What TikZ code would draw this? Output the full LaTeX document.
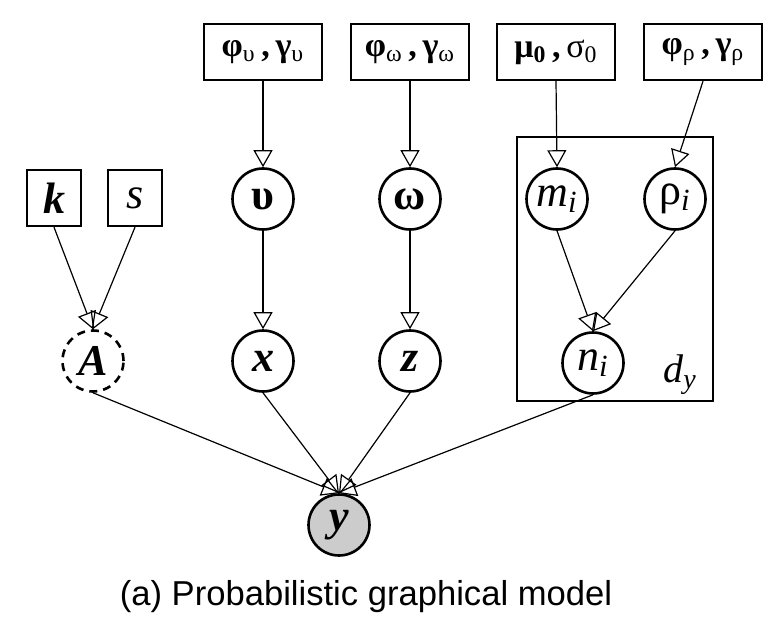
\documentclass[tikz,border=0pt]{standalone}
\usepackage{fontspec}
\setmainfont{Liberation Serif}
\newfontfamily\capfont{Liberation Sans}
\usetikzlibrary{arrows.meta}
\begin{document}
\begin{tikzpicture}[x=0.5pt,y=-0.5pt,
  hyper/.style={rectangle, fill=none, draw=black, line width=1.2pt, minimum width=59pt, minimum height=28pt, inner sep=0pt, font=\fontsize{17}{19}\selectfont},
  fixed/.style={rectangle, fill=none, draw=black, line width=1.2pt, minimum width=27pt, minimum height=28pt, inner sep=0pt, font=\fontsize{22}{24}\selectfont},
  latent/.style={circle, fill=none, draw=black, line width=1.3pt, minimum size=30.5pt, inner sep=0pt, font=\fontsize{22}{24}\selectfont},
  edge/.style={line width=0.6pt, -{Triangle[open, length=8.5pt, width=9.5pt]}}]
\useasboundingbox (0,0) rectangle (780,636);
% hyperparameters
\node [hyper] (hu) at (263,52) {{\bfseries φ}\textsubscript{υ}\,{\bfseries ,}\,{\bfseries γ}\textsubscript{υ}};
\node [hyper] (hw) at (410,52) {{\bfseries φ}\textsubscript{ω}\,{\bfseries ,}\,{\bfseries γ}\textsubscript{ω}};
\node [hyper] (hm) at (556,52) {{\bfseries μ\textsubscript{0}}\,{\bfseries ,}\,σ\textsubscript{0}};
\node [hyper] (hr) at (703,52) {{\bfseries φ}\textsubscript{ρ}\,{\bfseries ,}\,{\bfseries γ}\textsubscript{ρ}};
\node [fixed] (k) at (54,198) {\bfseries\itshape k};
\node [fixed] (s) at (135,198) {\itshape s};
% latent variables
\node [latent] (u) at (263,199) {\bfseries υ};
\node [latent] (w) at (410,199) {\bfseries ω};
\node [latent] (m) at (557,199) {\itshape m\textsubscript{i}};
\node [latent] (r) at (675,199) {ρ\textsubscript{\itshape i}};
\node [latent, dashed, dash pattern=on 4pt off 3pt] (A) at (93,361) {\bfseries\itshape A};
\node [latent] (x) at (263,361) {\bfseries\itshape x};
\node [latent] (z) at (410,361) {\bfseries\itshape z};
\node [latent] (n) at (593,363) {\itshape n\textsubscript{i}};
\node [latent, fill=black!20] (y) at (339,525) {\bfseries\itshape y};
% plate
\draw [line width=1pt] (517,137) rectangle (713,401);
\node [font=\fontsize{20}{22}\selectfont\itshape] (dy) at (680,375) {d\textsubscript{y}};
% edges
\draw [edge] (hu.south) -- (u.north);
\draw [edge] (hw.south) -- (w.north);
\draw [edge] (hm.south) -- (m.north);
\draw [edge] (hr.south) -- (r.north);
\draw [edge] (k.south) -- (A.north);
\draw [edge] (s.south) -- (A.north);
\draw [edge] (u.south) -- (x.north);
\draw [edge] (w.south) -- (z.north);
\draw [edge] (m.south) -- (n.north);
\draw [edge] (r.south) -- (n.north);
\draw [edge] (A.south) -- (y.north);
\draw [edge] (x.south) -- (y.north);
\draw [edge] (z.south) -- (y.north);
\draw [edge] (n.south) -- (y.north);
% caption
\node [anchor=base, font=\fontsize{17.3}{20}\capfont] (cap) at (366,605) {(a) Probabilistic graphical model};
\end{tikzpicture}
\end{document}
